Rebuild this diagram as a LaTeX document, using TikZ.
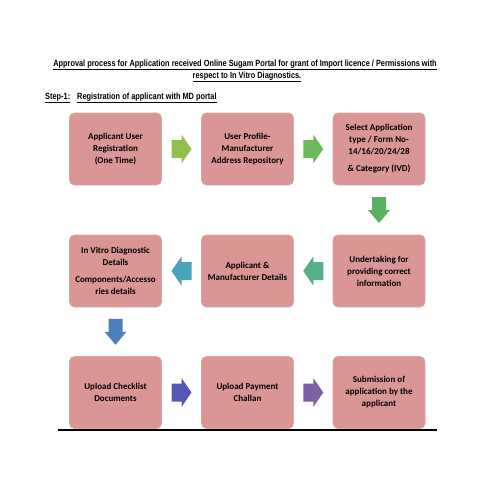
\documentclass[tikz,border=0pt]{standalone}
\usepackage{fontspec}
\setmainfont{Carlito}
\newfontfamily\narrowfont[FakeStretch=0.82]{Liberation Sans}
\usetikzlibrary{calc}
\definecolor{boxfill}{HTML}{D99694}
\definecolor{boxline}{HTML}{E0A4A2}
\definecolor{cA}{HTML}{92C050}
\definecolor{cB}{HTML}{6BB95A}
\definecolor{cC}{HTML}{5BB05F}
\definecolor{cD}{HTML}{55B08A}
\definecolor{cE}{HTML}{4BA3B8}
\definecolor{cF}{HTML}{4F7FBB}
\definecolor{cG}{HTML}{5558B5}
\definecolor{cH}{HTML}{7D5FA8}
\tikzset{
  box/.style={draw=boxline, line width=0.8pt, fill=boxfill, rounded corners=5pt,
    minimum width=92pt, minimum height=72pt, align=center, inner sep=2pt,
    font=\fontsize{9}{12}\selectfont\bfseries},
  ttl/.style={inner sep=0pt, font=\narrowfont\fontsize{9}{12}\selectfont\bfseries},
  pics/harrow/.style={code={\fill[#1] (-10,-9) -- (0,-9) -- (0,-14.5) -- (10,0) -- (0,14.5) -- (0,9) -- (-10,9) -- cycle;}},
  pics/varrow/.style={code={\fill[#1] (-7,-13) -- (7,-13) -- (7,0) -- (11,0) -- (0,13) -- (-11,0) -- (-7,0) -- cycle;}}
}
\begin{document}
\begin{tikzpicture}[x=1pt,y=-1pt]
\useasboundingbox[fill=white] (0,0) rectangle (495,495);
% titles
\node[ttl] (t1) at (245,65) {\underline{Approval process for Application received Online Sugam Portal for grant of Import licence / Permissions with}};
\node[ttl] (t2) at (247,77) {\underline{respect to In Vitro Diagnostics.}};
\node[ttl, anchor=west] (s1) at (45,98) {\underline{Step-1:}};
\node[ttl, anchor=west] (s2) at (77,98) {\underline{Registration of applicant with MD portal}};
% boxes
\node[box] (b1) at (115.5,149) {Applicant User\\Registration\\(One Time)};
\node[box] (b2) at (247.5,149) {User Profile-\\Manufacturer\\Address Repository};
\node[box] (b3) at (379,149) {Select Application\\type / Form No-\\14/16/20/24/28\\[5pt]\& Category (IVD)};
\node[box] (b4) at (115.5,271) {In Vitro Diagnostic\\Details\\[5pt]Components/Accesso\\ries details};
\node[box] (b5) at (247.5,271) {Applicant \&\\Manufacturer Details};
\node[box] (b6) at (379,271) {Undertaking for\\providing correct\\information};
\node[box] (b7) at (115.5,392.5) {Upload Checklist\\Documents};
\node[box] (b8) at (247.5,392.5) {Upload Payment\\Challan};
\node[box] (b9) at (379,392.5) {Submission of\\application by the\\applicant};
% arrows
\pic at ($(b1.east)!0.5!(b2.west)$) {harrow=cA};
\pic at ($(b2.east)!0.5!(b3.west)$) {harrow=cB};
\pic at ($(b3.south)!0.5!(b6.north)$) {varrow=cC};
\pic[rotate=180] at ($(b6.west)!0.5!(b5.east)$) {harrow=cD};
\pic[rotate=180] at ($(b5.west)!0.5!(b4.east)$) {harrow=cE};
\pic at ($(b4.south)!0.5!(b7.north)$) {varrow=cF};
\pic at ($(b7.east)!0.5!(b8.west)$) {harrow=cG};
\pic at ($(b8.east)!0.5!(b9.west)$) {harrow=cH};
% bottom rule
\coordinate (l1) at (58,430);
\coordinate (l2) at (437,430);
\draw[line width=1.2pt] (l1) -- (l2);
\end{tikzpicture}
\end{document}
